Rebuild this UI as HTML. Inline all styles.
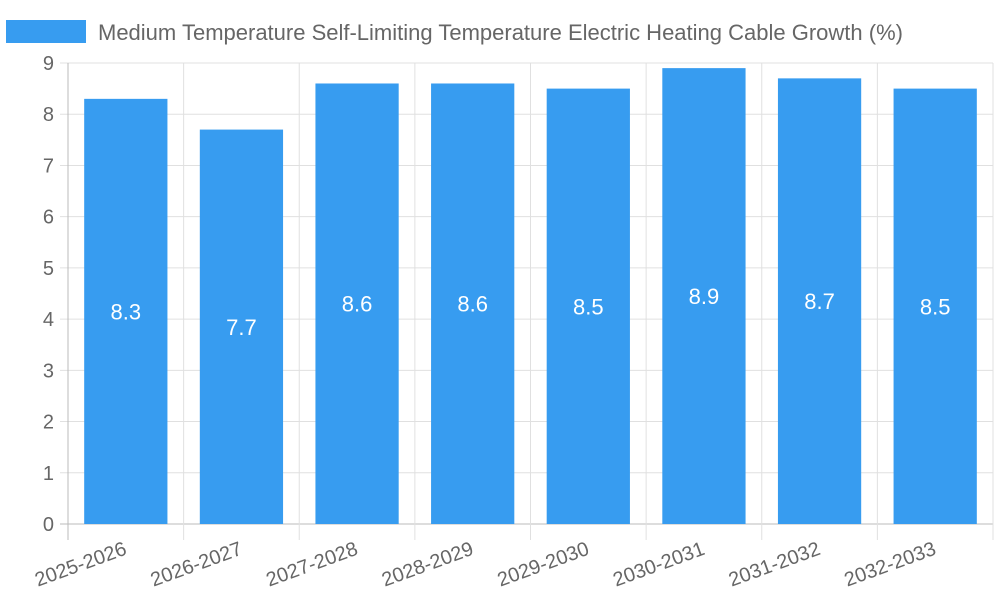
<!DOCTYPE html>
<html><head><meta charset="utf-8"><style>
body{margin:0;background:#fff;}
svg{display:block;font-family:"Liberation Sans",sans-serif;}
</style></head><body>
<svg id="chart" width="1000" height="600">
<g>
<rect x="6" y="20" width="80" height="23" fill="#379cf0"></rect>
<text x="98" y="40" font-size="22" fill="#666">Medium Temperature Self-Limiting Temperature Electric Heating Cable Growth (%)</text>
</g>
<g id="grid"></g><g id="bars"></g><g id="axes"></g>
</svg>
<script>
const categories=["2025-2026","2026-2027","2027-2028","2028-2029","2029-2030","2030-2031","2031-2032","2032-2033"];
const values=[8.3,7.7,8.6,8.6,8.5,8.9,8.7,8.5];
const yTicks=[0,1,2,3,4,5,6,7,8,9];
const X0=68,X1=993,Y0=524,Y1=63,YMAX=9;
const ns="http://www.w3.org/2000/svg";
const bw=(X1-X0)/categories.length;
const y=v=>Y0-(v/YMAX)*(Y0-Y1);
const xc=i=>X0+bw*(i+0.5);
function mk(t,a,p){const e=document.createElementNS(ns,t);for(const k in a)e.setAttribute(k,a[k]);p.appendChild(e);return e;}
const grid=document.getElementById('grid'),bars=document.getElementById('bars'),axes=document.getElementById('axes');
yTicks.forEach(t=>{
 const l=mk('line',{x1:X0-8,x2:X1,y1:y(t),y2:y(t),stroke:t===0?'#bbb':'#e0e0e0','stroke-width':1},grid);
 
 
 const tx=mk('text',{x:X0-14,y:y(t)+7,'text-anchor':'end','font-size':20,fill:'#666'},axes);
 tx.textContent=t;
 
 
});
for(let i=0;i<=categories.length;i++){
 const x=X0+bw*i;
 const l=mk('line',{x1:x,x2:x,y1:Y1,y2:Y0+16,stroke:i===0?'#bbb':'#e0e0e0','stroke-width':1},grid);
 
 
}
categories.forEach((c,i)=>{
 const w=bw*0.72;
 const r=mk('rect',{x:xc(i)-w/2,y:y(values[i]),width:w,height:Y0-y(values[i]),fill:'#379cf0'},bars);
 
 
 const v=mk('text',{x:xc(i),y:(y(values[i])+Y0)/2+8,'text-anchor':'middle','font-size':22,fill:'#fff'},bars);
 v.textContent=values[i];
 
 
 const t=mk('text',{x:xc(i)+2,y:Y0+30,'text-anchor':'end','font-size':20,fill:'#666',transform:`rotate(-20 ${xc(i)+2} ${Y0+30})`},axes);
 t.textContent=c;
 
 
});
</script>
</body></html>
